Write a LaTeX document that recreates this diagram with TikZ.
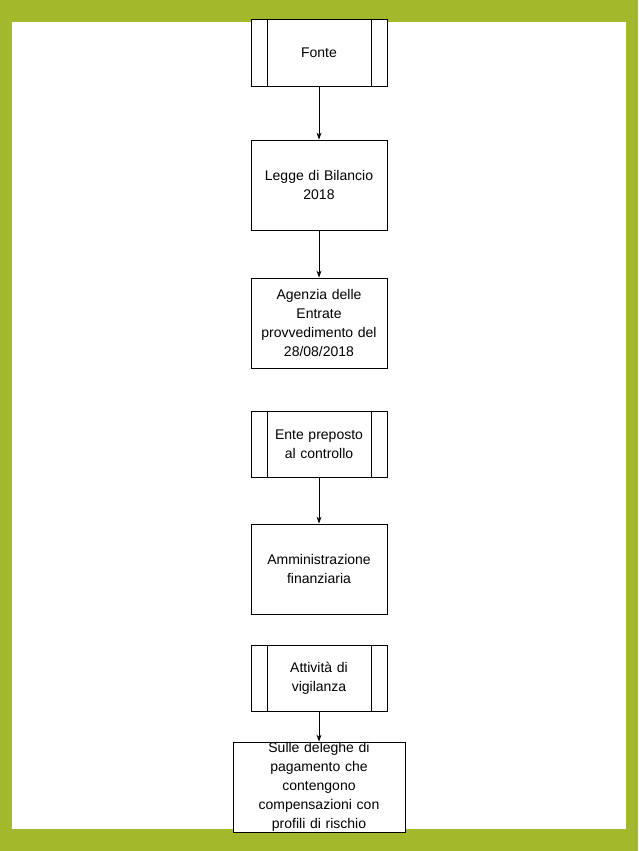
\documentclass[tikz,border=0pt]{standalone}
\usepackage{fontspec}
\setmainfont{Liberation Sans}
\usetikzlibrary{arrows.meta}
\definecolor{frame}{HTML}{A3B82A}
\begin{document}
\begin{tikzpicture}[x=1pt,y=-1pt,
  box/.style={draw=black,line width=0.8pt,fill=white,minimum width=136pt,inner sep=0pt,align=center,font=\fontsize{14}{19}\selectfont,text width=128pt},
  arr/.style={-{Stealth[length=7pt,width=5pt]},line width=0.8pt}]
\fill[frame] (0,0) rectangle (638,851);
\fill[white] (12,22) rectangle (626,829);
\useasboundingbox (0,0) rectangle (638,851);
\node[box,minimum height=67pt] (f) at (319,52.5) {Fonte};
\node[box,minimum height=90pt] (l) at (319,185) {Legge di Bilancio\\2018};
\node[box,minimum height=90pt] (a) at (319,323) {Agenzia delle\\Entrate\\provvedimento del\\28/08/2018};
\node[box,minimum height=66pt] (e) at (319,444) {Ente preposto\\al controllo};
\node[box,minimum height=90pt] (m) at (319,569) {Amministrazione\\finanziaria};
\node[box,minimum height=66pt] (v) at (319,678) {Attività di\\vigilanza};
\node[box,minimum height=90pt,minimum width=172pt,text width=160pt] (s) at (319,787) {Sulle deleghe di\\pagamento che\\contengono\\compensazioni con\\profili di rischio};
\foreach \n in {f,e,v}{
  \draw[line width=0.8pt] ([xshift=17pt]\n.north west) -- ([xshift=17pt]\n.south west);
  \draw[line width=0.8pt] ([xshift=-16pt]\n.north east) -- ([xshift=-16pt]\n.south east);}
\draw[arr] (f) -- (l);
\draw[arr] (l) -- (a);
\draw[arr] (e) -- (m);
\draw[arr] (v) -- (s);
\end{tikzpicture}
\end{document}
